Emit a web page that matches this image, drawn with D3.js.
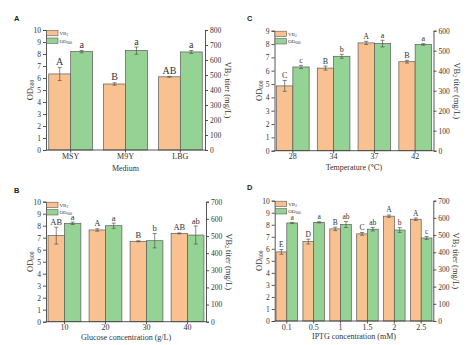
<!DOCTYPE html>
<html>
<head>
<meta charset="utf-8">
<script src="https://cdn.jsdelivr.net/npm/d3@7"></script>
<style>
  html, body { margin: 0; padding: 0; background: #fff; }
  svg { display: block; }
  text { font-family: "Liberation Serif", "DejaVu Serif", serif; fill: #333; }
  .panel-tag { font-family: "Liberation Sans", Arial, sans-serif; font-weight: bold; fill: #222; }
  .domain, .tick line { stroke: #444; stroke-width: 0.9; }
</style>
</head>
<body>
<svg id="chart" width="474" height="345"></svg>
<script>
// Panel A: culture medium
const mediumCats = ["MSY", "M9Y", "LBG"];
const mediumVB2 = [507, 440, 488];
const mediumVB2Err = [44, 8, 3];
const mediumOD = [8.2, 8.28, 8.17];
const mediumODErr = [0.1, 0.3, 0.12];
const mediumVB2Sig = ["A", "B", "AB"];
const mediumODSig = ["a", "a", "a"];

// Panel B: glucose concentration
const glucoseCats = ["10", "20", "30", "40"];
const glucoseVB2 = [502, 535, 469, 515];
const glucoseVB2Err = [49, 7, 3, 3];
const glucoseOD = [8.2, 8.0, 6.75, 7.22];
const glucoseODErr = [0.1, 0.22, 0.6, 0.75];
const glucoseVB2Sig = ["AB", "A", "B", "AB"];
const glucoseODSig = ["a", "a", "b", "ab"];

// Panel C: temperature
const tempCats = ["28", "34", "37", "42"];
const tempVB2 = [324, 413, 539, 445];
const tempVB2Err = [27, 10, 8, 7];
const tempOD = [6.28, 7.08, 8.03, 7.97];
const tempODErr = [0.12, 0.15, 0.25, 0.06];
const tempVB2Sig = ["C", "B", "A", "B"];
const tempODSig = ["c", "b", "a", "a"];

// Panel D: IPTG concentration
const iptgCats = ["0.1", "0.5", "1", "1.5", "2", "2.5"];
const iptgVB2 = [402, 462, 536, 507, 610, 592];
const iptgVB2Err = [14, 14, 10, 8, 7, 7];
const iptgOD = [8.15, 8.2, 8.02, 7.63, 7.56, 6.9];
const iptgODErr = [0.05, 0.05, 0.25, 0.15, 0.2, 0.12];
const iptgVB2Sig = ["E", "D", "B", "C", "A", "A"];
const iptgODSig = ["a", "a", "ab", "ab", "b", "c"];

const ORANGE = "#F9C18F";
const GREEN = "#95D394";
const EDGE = "#5a5a5a";

const svg = d3.select("#chart");

function drawPanel(p) {
  const g = svg.append("g");
  const x = d3.scaleBand().domain(p.cats).range([p.x0, p.x1])
    .paddingInner(0.2).paddingOuter(0.05);
  const yL = d3.scaleLinear().domain([0, p.odMax]).range([p.yBot, p.yTop]);
  const yR = d3.scaleLinear().domain([0, p.vbMax]).range([p.yBot, p.yTop]);
  const bw = x.bandwidth() / 2;

  const rows = p.cats.map((c, i) => ({
    c, vb: p.vb[i], vbErr: p.vbErr[i], od: p.od[i], odErr: p.odErr[i],
    vbSig: p.vbSig[i], odSig: p.odSig[i]
  }));

  // bars
  g.selectAll(".vb").data(rows).join("rect")
    .attr("x", d => x(d.c)).attr("width", bw)
    .attr("y", d => yR(d.vb)).attr("height", d => p.yBot - yR(d.vb))
    .attr("fill", ORANGE).attr("stroke", EDGE).attr("stroke-width", 0.7);
  g.selectAll(".od").data(rows).join("rect")
    .attr("x", d => x(d.c) + bw).attr("width", bw)
    .attr("y", d => yL(d.od)).attr("height", d => p.yBot - yL(d.od))
    .attr("fill", GREEN).attr("stroke", EDGE).attr("stroke-width", 0.7);

  // error bars
  function errBar(cx, yHi, yLo) {
    g.append("line").attr("x1", cx).attr("x2", cx).attr("y1", yHi).attr("y2", yLo)
      .attr("stroke", "#555").attr("stroke-width", 0.7);
    [yHi, yLo].forEach(yy => g.append("line").attr("x1", cx - 2).attr("x2", cx + 2)
      .attr("y1", yy).attr("y2", yy).attr("stroke", "#555").attr("stroke-width", 0.7));
  }
  rows.forEach(d => {
    const cxv = x(d.c) + bw / 2, cxo = x(d.c) + bw * 1.5;
    errBar(cxv, yR(d.vb + d.vbErr), yR(d.vb - d.vbErr));
    errBar(cxo, yL(d.od + d.odErr), yL(d.od - d.odErr));
    g.append("text").attr("x", cxv).attr("y", yR(d.vb + d.vbErr) - 2.5)
      .attr("text-anchor", "middle").attr("font-size", p.sigSize).text(d.vbSig);
    g.append("text").attr("x", cxo).attr("y", yL(d.od + d.odErr) - 2.5)
      .attr("text-anchor", "middle").attr("font-size", p.sigSize).text(d.odSig);
  });

  // axes
  const axL = g.append("g").attr("transform", `translate(${p.x0},0)`)
    .call(d3.axisLeft(yL).ticks(p.odMax).tickSize(3).tickPadding(2).tickFormat(d3.format("d")));
  const axR = g.append("g").attr("transform", `translate(${p.x1},0)`)
    .call(d3.axisRight(yR).ticks(p.vbMax / 100).tickSize(3).tickPadding(2).tickFormat(d3.format("d")));
  const axB = g.append("g").attr("transform", `translate(0,${p.yBot})`)
    .call(d3.axisBottom(x).tickSize(2.5).tickPadding(0.5));
  axB.select(".domain").attr("d", `M${p.x0},0H${p.x1}`);
  [axL, axR].forEach(a => a.selectAll("text").attr("font-size", 7.5)
    .attr("font-family", "Liberation Serif").attr("fill", "#333"));
  axB.selectAll("text").attr("font-size", 8).attr("font-family", "Liberation Serif").attr("fill", "#333");
  [axL, axR, axB].forEach(a => a.selectAll(".domain, .tick line").attr("stroke", "#444"));

  // axis titles
  const midY = (p.yTop + p.yBot) / 2;
  const lt = g.append("text").attr("transform", `translate(${p.x0 - 16},${midY}) rotate(-90)`)
    .attr("text-anchor", "middle").attr("dominant-baseline", "central").attr("font-size", 8.5);
  lt.append("tspan").text("OD");
  lt.append("tspan").attr("font-size", 5.5).attr("dy", 2).text("600");

  const rt = g.append("text").attr("transform", `translate(${p.x1 + 23},${midY}) rotate(90)`)
    .attr("text-anchor", "middle").attr("dominant-baseline", "central").attr("font-size", 8.5);
  rt.append("tspan").text("VB");
  rt.append("tspan").attr("font-size", 5.5).attr("dy", 2).text("2");
  rt.append("tspan").attr("dy", -2).text(" titer (mg/L)");

  g.append("text").attr("x", (p.x0 + p.x1) / 2).attr("y", p.yBot + p.titleDy)
    .attr("text-anchor", "middle").attr("font-size", 8).text(p.xTitle);

  g.append("text").attr("class", "panel-tag").attr("x", p.tagX).attr("y", p.tagY)
    .attr("font-size", 7.5).text(p.tag);

  // legend
  const lg = g.append("g").attr("transform", `translate(${p.x0},${p.yTop})`);
  [[ORANGE, "VB", "2"], [GREEN, "OD", "600"]].forEach((it, i) => {
    lg.append("rect").attr("x", 0.5).attr("y", 0.5 + i * 7.5).attr("width", 11.5).attr("height", 5.3)
      .attr("fill", it[0]).attr("stroke", EDGE).attr("stroke-width", 0.6);
    const t = lg.append("text").attr("x", 13.5).attr("y", 5 + i * 7.5).attr("font-size", 5);
    t.append("tspan").text(it[1]);
    t.append("tspan").attr("font-size", 3.5).attr("dy", 1.2).text(it[2]);
  });
}

drawPanel({ cats: mediumCats, vb: mediumVB2, vbErr: mediumVB2Err, od: mediumOD, odErr: mediumODErr,
  vbSig: mediumVB2Sig, odSig: mediumODSig, x0: 46, x1: 205, yTop: 30, yBot: 150,
  odMax: 10, vbMax: 800, xTitle: "Medium", titleDy: 20.5, tag: "A", tagX: 14, tagY: 21, sigSize: 10 });

drawPanel({ cats: tempCats, vb: tempVB2, vbErr: tempVB2Err, od: tempOD, odErr: tempODErr,
  vbSig: tempVB2Sig, odSig: tempODSig, x0: 274.5, x1: 433.5, yTop: 30.7, yBot: 150.7,
  odMax: 9, vbMax: 600, xTitle: "Temperature (\u2103)", titleDy: 19, tag: "C", tagX: 247, tagY: 21, sigSize: 8 });

drawPanel({ cats: glucoseCats, vb: glucoseVB2, vbErr: glucoseVB2Err, od: glucoseOD, odErr: glucoseODErr,
  vbSig: glucoseVB2Sig, odSig: glucoseODSig, x0: 46, x1: 206, yTop: 201.7, yBot: 321.7,
  odMax: 10, vbMax: 700, xTitle: "Glucose concentration (g/L)", titleDy: 18, tag: "B", tagX: 14, tagY: 193, sigSize: 8.5 });

drawPanel({ cats: iptgCats, vb: iptgVB2, vbErr: iptgVB2Err, od: iptgOD, odErr: iptgODErr,
  vbSig: iptgVB2Sig, odSig: iptgODSig, x0: 274.7, x1: 433.3, yTop: 200.7, yBot: 321,
  odMax: 10, vbMax: 700, xTitle: "IPTG concentration (mM)", titleDy: 18, tag: "D", tagX: 247, tagY: 189.5, sigSize: 7.5 });
</script>
</body>
</html>
